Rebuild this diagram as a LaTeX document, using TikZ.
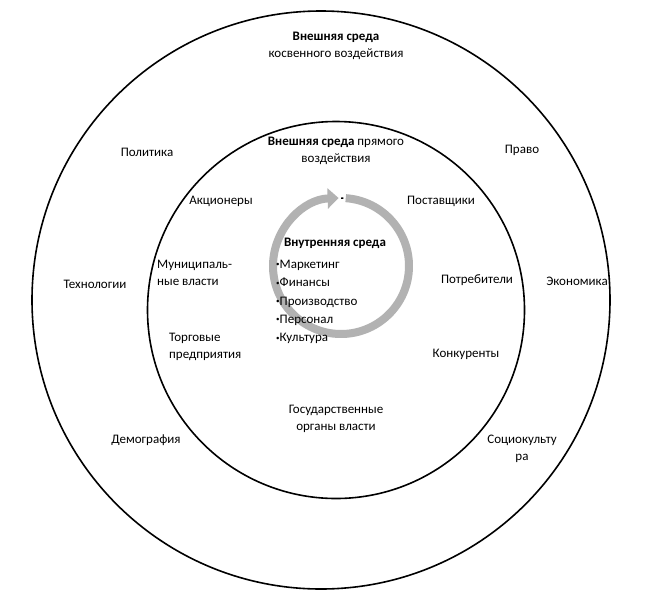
\documentclass[tikz,border=0pt]{standalone}
\usepackage{fontspec}
\setmainfont{Carlito}
\usetikzlibrary{arrows.meta}
\newcommand{\mybul}{\raisebox{0.25ex}{\fontsize{7}{7}\selectfont\textbullet}}
\begin{document}
\begin{tikzpicture}[x=1pt,y=-1pt,
  ring/.style={line width=1.6pt},
  lbl/.style={font=\fontsize{13}{17}\selectfont, align=center, inner sep=0pt},
  lbll/.style={lbl, align=left, anchor=west}]
\useasboundingbox (0,0) rectangle (669,595);
\fill[white] (0,0) rectangle (669,595);
\node[draw, ring, circle, minimum size=578pt, inner sep=0pt] (outer) at (321,300) {};
\node[draw, ring, circle, minimum size=377pt, inner sep=0pt] (middle) at (336,310) {};
\coordinate (ic) at (341,266);
\begin{scope}[shift={(ic)}, x=1pt, y=1pt]
\draw[line width=8pt, gray!60, -{Triangle[length=11pt,width=20pt]}] (86:68) arc[start angle=86, end angle=-268, radius=68];
\draw[line width=1.5pt] (88:68) -- (89.8:68);
\end{scope}
\node[lbl] (t1) at (336,46) {\textbf{Внешняя среда}\\косвенного воздействия};
\node[lbl] (t2) at (336,151) {\textbf{Внешняя среда} прямого\\воздействия};
\node[lbl] (pol) at (147,152) {Политика};
\node[lbl] (pravo) at (522,150) {Право};
\node[lbl] (tech) at (95,284) {Технологии};
\node[lbl] (econ) at (577,281) {Экономика};
\node[lbl] (demo) at (146,440) {Демография};
\node[lbl] (soc) at (522,449) {Социокульту\\ра};
\node[lbl] (akc) at (221,201) {Акционеры};
\node[lbl] (post) at (441,201) {Поставщики};
\node[lbll] (mun) at (157,273) {Муниципаль-\\ные власти};
\node[lbl] (potr) at (477,280) {Потребители};
\node[lbll] (torg) at (169,347) {Торговые\\предприятия};
\node[lbl] (konk) at (466,354) {Конкуренты};
\node[lbl] (gos) at (336,419) {Государственные\\органы власти};
\node[lbl] (vn) at (335,243) {\textbf{Внутренняя среда}};
\node[lbll, font=\fontsize{13}{18.3}\selectfont] (list) at (276,302) {\mybul Маркетинг\\\mybul Финансы\\\mybul Производство\\\mybul Персонал\\\mybul Культура};
\end{tikzpicture}
\end{document}
